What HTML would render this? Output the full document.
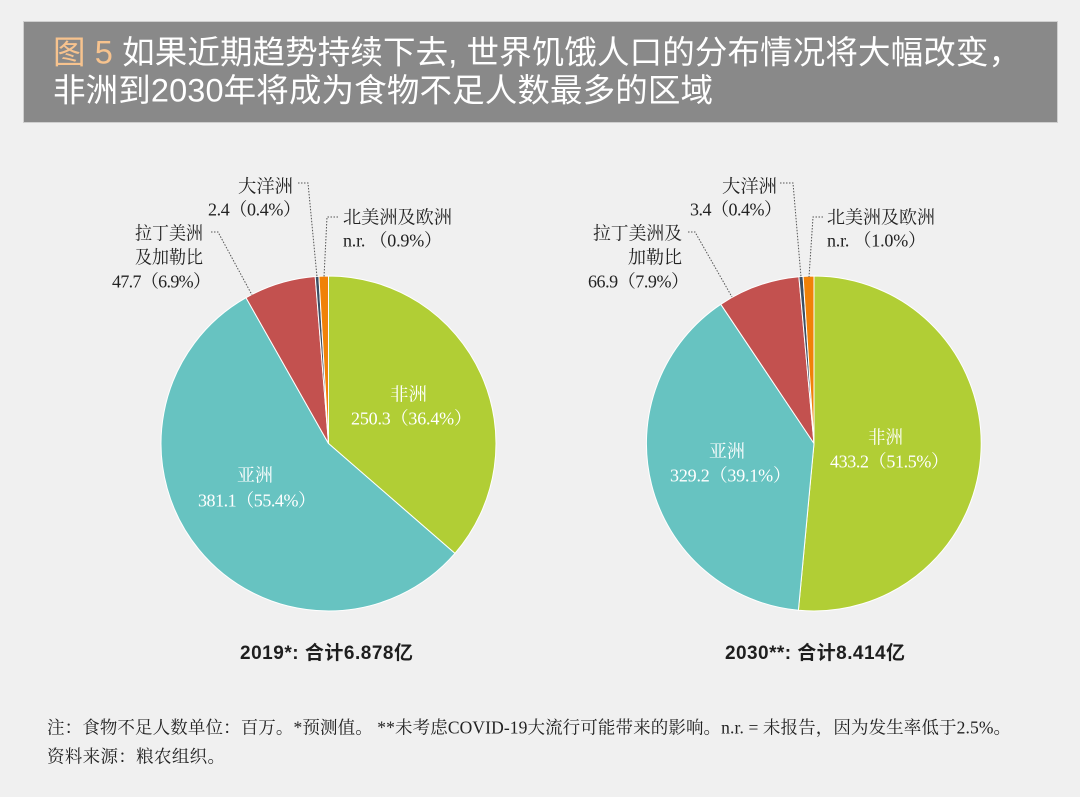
<!DOCTYPE html>
<html>
<head>
<meta charset="utf-8">
<style>
  html, body { margin: 0; padding: 0; background: #f0f0f0; }
  svg { display: block; }
  .t { font-family: "Liberation Sans", "Noto Sans CJK SC", sans-serif; }
  .s { font-family: "Liberation Serif", "Noto Serif CJK SC", serif; }
</style>
</head>
<body>
<svg width="1080" height="797" viewBox="0 0 1080 797" xmlns="http://www.w3.org/2000/svg">
  <rect x="0" y="0" width="1080" height="797" fill="#f0f0f0"/>
  <!-- Title bar -->
  <rect x="23.5" y="21.5" width="1034" height="101" fill="#898989" stroke="#cfcfcf" stroke-width="1"/>
  <text class="t" x="53" y="63.5" font-size="32.5" fill="#ffffff" textLength="968" lengthAdjust="spacing"><tspan fill="#f7c38e">图 5</tspan> 如果近期趋势持续下去, 世界饥饿人口的分布情况将大幅改变，</text>
  <text class="t" x="53" y="101.5" font-size="32.5" fill="#ffffff" textLength="660" lengthAdjust="spacing">非洲到2030年将成为食物不足人数最多的区域</text>

  <!-- Left pie -->
  <g stroke="#ffffff" stroke-width="1" stroke-linejoin="round">
    <path d="M328.5 443.5 L328.5 276 A167.5 167.5 0 0 1 454.9 553.4 Z" fill="#b1ce35"/>
    <path d="M328.5 443.5 L454.9 553.4 A167.5 167.5 0 1 1 246.0 297.7 Z" fill="#67c3c1"/>
    <path d="M328.5 443.5 L246.0 297.7 A167.5 167.5 0 0 1 315.2 276.5 Z" fill="#c3514f"/>
    <path d="M328.5 443.5 L315.2 276.5 A167.5 167.5 0 0 1 318.9 276.3 Z" fill="#3c4e63"/>
    <path d="M328.5 443.5 L318.9 276.3 A167.5 167.5 0 0 1 328.5 276 Z" fill="#f08108"/>
  </g>
  <!-- Right pie -->
  <g stroke="#ffffff" stroke-width="1" stroke-linejoin="round">
    <path d="M814 443.5 L814 276 A167.5 167.5 0 1 1 798.4 610.3 Z" fill="#b1ce35"/>
    <path d="M814 443.5 L798.4 610.3 A167.5 167.5 0 0 1 720.8 304.3 Z" fill="#67c3c1"/>
    <path d="M814 443.5 L720.8 304.3 A167.5 167.5 0 0 1 798.9 276.7 Z" fill="#c3514f"/>
    <path d="M814 443.5 L798.9 276.7 A167.5 167.5 0 0 1 803.1 276.4 Z" fill="#3c4e63"/>
    <path d="M814 443.5 L803.1 276.4 A167.5 167.5 0 0 1 814 276 Z" fill="#f08108"/>
  </g>

  <!-- Leader lines -->
  <g fill="none" stroke="#555555" stroke-width="1" stroke-dasharray="1.5 1.5">
    <path d="M298 183 L308 183 L317 277"/>
    <path d="M338 217 L327 217 L324 277"/>
    <path d="M211 232 L218 232 L252 295"/>
    <path d="M780 183 L793 183 L801 277"/>
    <path d="M823 217 L813 217 L809 277"/>
    <path d="M688 232 L695 232 L732 297"/>
  </g>

  <!-- Left labels -->
  <g class="s" font-size="18" fill="#222222">
    <text x="238" y="192.5" textLength="55" lengthAdjust="spacingAndGlyphs">大洋洲</text>
    <text x="208" y="215.5" textLength="93" lengthAdjust="spacing">2.4（0.4%）</text>
    <text x="343" y="223.5" textLength="109" lengthAdjust="spacingAndGlyphs">北美洲及欧洲</text>
    <text x="343" y="246.5" textLength="99" lengthAdjust="spacing">n.r. （0.9%）</text>
    <text x="135" y="239.5" textLength="68" lengthAdjust="spacingAndGlyphs">拉丁美洲</text>
    <text x="135" y="263.5" textLength="68" lengthAdjust="spacingAndGlyphs">及加勒比</text>
    <text x="112" y="287.5" textLength="99" lengthAdjust="spacing">47.7（6.9%）</text>
  </g>
  <g class="s" font-size="18" fill="#ffffff">
    <text x="390" y="400.5" textLength="37" lengthAdjust="spacingAndGlyphs">非洲</text>
    <text x="351" y="424.5" textLength="121" lengthAdjust="spacing">250.3（36.4%）</text>
    <text x="237" y="481.5" textLength="36" lengthAdjust="spacingAndGlyphs">亚洲</text>
    <text x="198" y="506.5" textLength="118" lengthAdjust="spacing">381.1（55.4%）</text>
  </g>

  <!-- Right labels -->
  <g class="s" font-size="18" fill="#222222">
    <text x="722" y="192.5" textLength="55" lengthAdjust="spacingAndGlyphs">大洋洲</text>
    <text x="690" y="215.5" textLength="92" lengthAdjust="spacing">3.4（0.4%）</text>
    <text x="827" y="223.5" textLength="108" lengthAdjust="spacingAndGlyphs">北美洲及欧洲</text>
    <text x="827" y="246.5" textLength="99" lengthAdjust="spacing">n.r. （1.0%）</text>
    <text x="593" y="239.5" textLength="89" lengthAdjust="spacingAndGlyphs">拉丁美洲及</text>
    <text x="628" y="263.5" textLength="54" lengthAdjust="spacingAndGlyphs">加勒比</text>
    <text x="588" y="287.5" textLength="101" lengthAdjust="spacing">66.9（7.9%）</text>
  </g>
  <g class="s" font-size="18" fill="#ffffff">
    <text x="868" y="443.5" textLength="35" lengthAdjust="spacingAndGlyphs">非洲</text>
    <text x="830" y="467.5" textLength="119" lengthAdjust="spacing">433.2（51.5%）</text>
    <text x="709" y="457.5" textLength="36" lengthAdjust="spacingAndGlyphs">亚洲</text>
    <text x="670" y="481.5" textLength="121" lengthAdjust="spacing">329.2（39.1%）</text>
  </g>

  <!-- Captions -->
  <text class="t" x="240" y="659" font-size="19" font-weight="bold" fill="#1e1e1e" textLength="173" lengthAdjust="spacing">2019*: 合计6.878亿</text>
  <text class="t" x="725" y="659" font-size="19" font-weight="bold" fill="#1e1e1e" textLength="180" lengthAdjust="spacing">2030**: 合计8.414亿</text>

  <!-- Notes -->
  <text class="s" x="47" y="733.5" font-size="17.5" fill="#222222" textLength="964" lengthAdjust="spacing">注：食物不足人数单位：百万。*预测值。 **未考虑COVID-19大流行可能带来的影响。n.r. = 未报告，因为发生率低于2.5%。</text>
  <text class="s" x="47" y="762.5" font-size="17.5" fill="#222222" textLength="178" lengthAdjust="spacing">资料来源：粮农组织。</text>
</svg>
</body>
</html>
